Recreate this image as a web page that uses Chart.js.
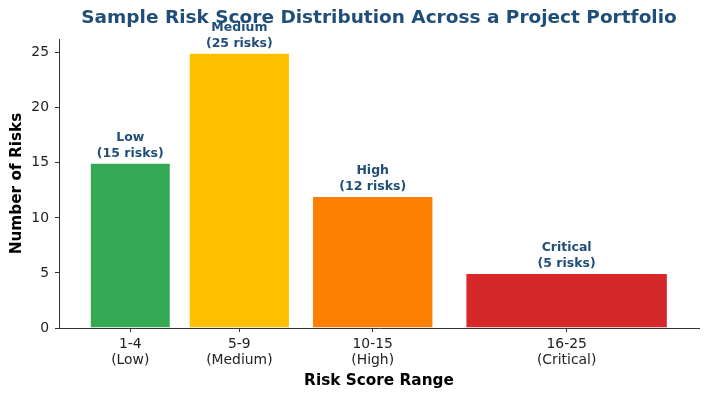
<!DOCTYPE html>
<html>
<head>
<meta charset="utf-8">
<script src="https://cdn.jsdelivr.net/npm/chart.js@4.4.1/dist/chart.umd.min.js"></script>
<style>
  html, body { margin: 0; padding: 0; background: #fff; }
  #wrap { width: 709px; height: 400px; }
</style>
</head>
<body>
<div id="wrap"><canvas id="riskChart"></canvas></div>
<script>
const rangeLabels = ['1-4', '5-9', '10-15', '16-25'];
const levelNames = ['Low', 'Medium', 'High', 'Critical'];
const rangeLow = [1, 5, 10, 16];
const rangeHigh = [4, 9, 15, 25];
const riskCounts = [15, 25, 12, 5];
const barColors = ['#34a853', '#ffc000', '#ff8000', '#d62828'];
const yTicks = [0, 5, 10, 15, 20, 25];

const titleText = 'Sample Risk Score Distribution Across a Project Portfolio';
const navy = '#1f4e79';
const BAR_FILL = 0.835; // bar covers this share of its score range

// each bar sits on the middle of its range, width follows range size
const centers = rangeLow.map((lo, i) => (lo + rangeHigh[i]) / 2);
const spans = rangeLow.map((lo, i) => (rangeHigh[i] - lo + 1) * BAR_FILL);

const barWidthPlugin = {
    id: 'barWidth',
    afterDatasetsUpdate(chart) {
        const xs = chart.scales.x;
        chart.getDatasetMeta(0).data.forEach((bar, i) => {
            const left = xs.getPixelForValue(centers[i] - spans[i] / 2);
            const right = xs.getPixelForValue(centers[i] + spans[i] / 2);
            bar.x = (left + right) / 2;
            bar.width = right - left;
        });
    }
};

const textPlugin = {
    id: 'texts',
    afterDraw(chart) {
        const ctx = chart.ctx;
        const area = chart.chartArea;
        const ys = chart.scales.y;
        ctx.save();
        ctx.fillStyle = navy;
        ctx.textAlign = 'center';
        ctx.textBaseline = 'middle';

        // bar labels
        ctx.font = 'bold 12.5px "DejaVu Sans"';
        chart.getDatasetMeta(0).data.forEach((bar, i) => {
            const top = ys.getPixelForValue(riskCounts[i]);
            ctx.fillText(levelNames[i], bar.x, top - 25);
            ctx.fillText('(' + riskCounts[i] + ' risks)', bar.x, top - 9.5);
        });

        // title over the plot area
        ctx.font = 'bold 18.5px "DejaVu Sans"';
        ctx.fillText(titleText, (area.left + area.right) / 2, 18);
        ctx.restore();
    }
};

const tickFont = { family: 'DejaVu Sans', size: 13.9, lineHeight: 1.15 };
const axisTitleFont = { family: 'DejaVu Sans', size: 15.3, weight: 'bold', lineHeight: 1.2 };

new Chart(document.getElementById('riskChart'), {
    type: 'bar',
    data: {
        datasets: [{
            data: riskCounts.map((v, i) => ({ x: centers[i], y: v })),
            backgroundColor: barColors,
            borderColor: 'rgba(255,255,255,0.5)',
            borderWidth: 1
        }]
    },
    options: {
        responsive: true,
        maintainAspectRatio: false,
        animation: false,
        events: [],
        layout: { padding: { top: 39, right: 10, left: 0, bottom: 0 } },
        plugins: {
            legend: { display: false },
            tooltip: { enabled: false }
        },
        scales: {
            x: {
                type: 'linear',
                offset: false,
                min: -0.44,
                max: 25.96,
                afterBuildTicks: s => { s.ticks = centers.map(v => ({ value: v })); },
                afterFit: s => { s.height = 72; },
                ticks: {
                    autoSkip: false,
                    maxRotation: 0,
                    padding: 4,
                    color: '#222',
                    font: tickFont,
                    callback: (v, i) => [rangeLabels[i], '(' + levelNames[i] + ')']
                },
                grid: { offset: false, drawOnChartArea: false, drawTicks: true, tickLength: 4, color: '#333' },
                border: { display: true, color: '#333', width: 1 },
                title: {
                    display: true,
                    text: 'Risk Score Range',
                    color: '#000',
                    font: axisTitleFont,
                    padding: { top: 0, bottom: 9.8 }
                }
            },
            y: {
                min: 0,
                max: 26.25,
                afterBuildTicks: s => { s.ticks = yTicks.map(v => ({ value: v })); },
                afterFit: s => { s.width = 59; },
                ticks: { padding: 6, color: '#222', font: tickFont },
                grid: { drawOnChartArea: false, drawTicks: true, tickLength: 4, color: '#333' },
                border: { display: true, color: '#333', width: 1 },
                title: {
                    display: true,
                    text: 'Number of Risks',
                    color: '#000',
                    font: axisTitleFont,
                    padding: { top: 7.8, bottom: 0 }
                }
            }
        }
    },
    plugins: [barWidthPlugin, textPlugin]
});
</script>
</body>
</html>
